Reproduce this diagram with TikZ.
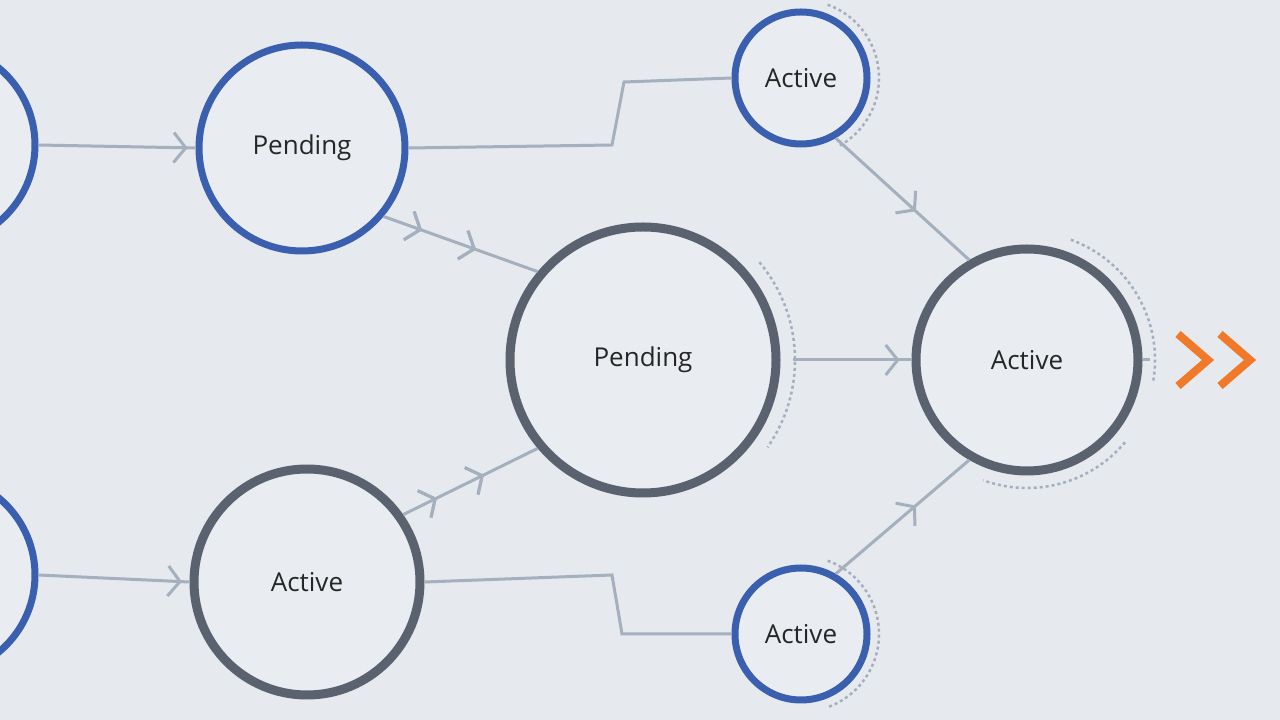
\documentclass[tikz,border=0pt]{standalone}
\usepackage{fontspec}
\setmainfont{Open Sans}
\usetikzlibrary{arrows.meta,decorations.markings}
\definecolor{bg}{HTML}{E6E9EE}
\definecolor{blu}{HTML}{3A5FAF}
\definecolor{gry}{HTML}{5A6270}
\definecolor{lnk}{HTML}{A5B0BE}
\definecolor{fil}{HTML}{E9ECF1}
\definecolor{org}{HTML}{F07A2A}
\tikzset{
 bnode/.style={circle,draw=blu,line width=7pt,fill=fil,inner sep=0pt,font=\fontsize{26}{30}\selectfont,text=black!85},
 gnode/.style={circle,draw=gry,line width=9pt,fill=fil,inner sep=0pt,font=\fontsize{26}{30}\selectfont,text=black!85},
 link/.style={draw=lnk,line width=3pt},
 chev/.style={decoration={markings,mark=at position #1 with {\arrow[lnk,line width=3pt]{Straight Barb[length=12pt,width=30pt]}}},postaction={decorate}},
 dsh/.style={draw=lnk,line width=2.5pt,dashed}
}
\begin{document}
\begin{tikzpicture}[x=1pt,y=1pt]
\fill[bg] (0,0) rectangle (1280,720);
\useasboundingbox (0,0) rectangle (1280,720);
% nodes
\node[bnode,minimum size=200pt] (L1) at (-65,575) {};
\node[bnode,minimum size=200pt] (L2) at (-65,145) {};
\node[bnode,minimum size=206pt] (P1) at (302,572) {Pending};
\node[gnode,minimum size=226pt] (A1) at (307,138) {Active};
\node[gnode,minimum size=266pt] (P2) at (643,360) {Pending};
\node[bnode,minimum size=132pt] (A2) at (801,642) {Active};
\node[bnode,minimum size=132pt] (A3) at (801,86) {Active};
\node[gnode,minimum size=222pt] (A4) at (1027,360) {Active};
% dashed arcs
\draw[dsh] ([shift={(0,0)}]A4.center) ++(70:128) arc (70:-10:128);
\draw[dsh] (A4.center) ++(-40:128) arc (-40:-110:128);
\draw[dsh] (P2.center) ++(40:152) arc (40:-35:152);
\draw[dsh] (A2.center) ++(70:78) arc (70:-60:78);
\draw[dsh] (A3.center) ++(70:78) arc (70:-70:78);
% connectors
\path[link,chev=0.95] (L1.east) -- (P1.west);
\path[link,chev=0.95] (L2.east) -- (A1.west);
\path[link,chev=0.25,chev=0.6] (P1.-40) -- (P2.140);
\path[link,chev=0.25,chev=0.6] (A1.35) -- (P2.-140);
\path[link,chev=0.9] (P2.east) ++(12,0) coordinate (c1) (c1) -- (A4.west);
\path[link,chev=0.6] (A2.-60) -- (A4.120);
\path[link,chev=0.6] (A3.60) -- (A4.-120);
\coordinate (t1) at (612,575);
\coordinate (t2) at (624,638);
\draw[link] (P1.east) -- (t1) -- (t2) -- (A2.west);
\coordinate (b1) at (612,145);
\coordinate (b2) at (622,86);
\draw[link] (A1.east) -- (b1) -- (b2) -- (A3.west);
\coordinate (o1) at (1150,360);
\coordinate (o2) at (1180,360);
\draw[lnk,line width=3pt] (A4.east) -- (o1);
\draw[org,line width=8pt,miter limit=10] (1178,386) -- (1208,360) -- (1178,334);
\draw[org,line width=8pt,miter limit=10] (1220,386) -- (1250,360) -- (1220,334);
\end{tikzpicture}
\end{document}
